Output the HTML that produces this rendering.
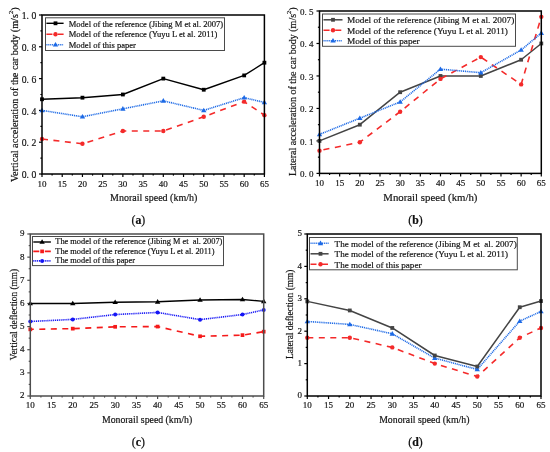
<!DOCTYPE html>
<html><head><meta charset="utf-8"><style>
html,body{margin:0;padding:0;background:#fff;}
svg{display:block;font-family:"Liberation Serif", serif;filter:blur(0.4px);}
text{stroke:#000;stroke-width:0.18px;}
</style></head><body>
<svg width="550" height="452" viewBox="0 0 550 452">
<rect width="550" height="452" fill="#fff"/>
<line x1="42.00" y1="174.00" x2="42.00" y2="177.00" stroke="#000" stroke-width="1.2"/>
<line x1="62.22" y1="174.00" x2="62.22" y2="177.00" stroke="#000" stroke-width="1.2"/>
<line x1="82.44" y1="174.00" x2="82.44" y2="177.00" stroke="#000" stroke-width="1.2"/>
<line x1="102.65" y1="174.00" x2="102.65" y2="177.00" stroke="#000" stroke-width="1.2"/>
<line x1="122.87" y1="174.00" x2="122.87" y2="177.00" stroke="#000" stroke-width="1.2"/>
<line x1="143.09" y1="174.00" x2="143.09" y2="177.00" stroke="#000" stroke-width="1.2"/>
<line x1="163.31" y1="174.00" x2="163.31" y2="177.00" stroke="#000" stroke-width="1.2"/>
<line x1="183.53" y1="174.00" x2="183.53" y2="177.00" stroke="#000" stroke-width="1.2"/>
<line x1="203.75" y1="174.00" x2="203.75" y2="177.00" stroke="#000" stroke-width="1.2"/>
<line x1="223.96" y1="174.00" x2="223.96" y2="177.00" stroke="#000" stroke-width="1.2"/>
<line x1="244.18" y1="174.00" x2="244.18" y2="177.00" stroke="#000" stroke-width="1.2"/>
<line x1="264.40" y1="174.00" x2="264.40" y2="177.00" stroke="#000" stroke-width="1.2"/>
<line x1="52.11" y1="174.00" x2="52.11" y2="175.60" stroke="#000" stroke-width="1.2"/>
<line x1="72.33" y1="174.00" x2="72.33" y2="175.60" stroke="#000" stroke-width="1.2"/>
<line x1="92.55" y1="174.00" x2="92.55" y2="175.60" stroke="#000" stroke-width="1.2"/>
<line x1="112.76" y1="174.00" x2="112.76" y2="175.60" stroke="#000" stroke-width="1.2"/>
<line x1="132.98" y1="174.00" x2="132.98" y2="175.60" stroke="#000" stroke-width="1.2"/>
<line x1="153.20" y1="174.00" x2="153.20" y2="175.60" stroke="#000" stroke-width="1.2"/>
<line x1="173.42" y1="174.00" x2="173.42" y2="175.60" stroke="#000" stroke-width="1.2"/>
<line x1="193.64" y1="174.00" x2="193.64" y2="175.60" stroke="#000" stroke-width="1.2"/>
<line x1="213.85" y1="174.00" x2="213.85" y2="175.60" stroke="#000" stroke-width="1.2"/>
<line x1="234.07" y1="174.00" x2="234.07" y2="175.60" stroke="#000" stroke-width="1.2"/>
<line x1="254.29" y1="174.00" x2="254.29" y2="175.60" stroke="#000" stroke-width="1.2"/>
<line x1="39.00" y1="174.00" x2="42.00" y2="174.00" stroke="#000" stroke-width="1.2"/>
<line x1="40.40" y1="158.10" x2="42.00" y2="158.10" stroke="#000" stroke-width="1.2"/>
<line x1="39.00" y1="142.20" x2="42.00" y2="142.20" stroke="#000" stroke-width="1.2"/>
<line x1="40.40" y1="126.30" x2="42.00" y2="126.30" stroke="#000" stroke-width="1.2"/>
<line x1="39.00" y1="110.40" x2="42.00" y2="110.40" stroke="#000" stroke-width="1.2"/>
<line x1="40.40" y1="94.50" x2="42.00" y2="94.50" stroke="#000" stroke-width="1.2"/>
<line x1="39.00" y1="78.60" x2="42.00" y2="78.60" stroke="#000" stroke-width="1.2"/>
<line x1="40.40" y1="62.70" x2="42.00" y2="62.70" stroke="#000" stroke-width="1.2"/>
<line x1="39.00" y1="46.80" x2="42.00" y2="46.80" stroke="#000" stroke-width="1.2"/>
<line x1="40.40" y1="30.90" x2="42.00" y2="30.90" stroke="#000" stroke-width="1.2"/>
<line x1="39.00" y1="15.00" x2="42.00" y2="15.00" stroke="#000" stroke-width="1.2"/>
<path d="M42.00,99.27L82.44,97.68L122.87,94.50L163.31,78.60L203.75,89.73L244.18,75.42L264.40,62.70" fill="none" stroke="#000" stroke-width="1.4" stroke-linejoin="round"/><rect x="40.10" y="97.37" width="3.80" height="3.80" fill="#000"/><rect x="80.54" y="95.78" width="3.80" height="3.80" fill="#000"/><rect x="120.97" y="92.60" width="3.80" height="3.80" fill="#000"/><rect x="161.41" y="76.70" width="3.80" height="3.80" fill="#000"/><rect x="201.85" y="87.83" width="3.80" height="3.80" fill="#000"/><rect x="242.28" y="73.52" width="3.80" height="3.80" fill="#000"/><rect x="262.50" y="60.80" width="3.80" height="3.80" fill="#000"/>
<path d="M42.00,139.02L82.44,143.79L122.87,131.07L163.31,131.07L203.75,116.76L244.18,101.66L264.40,115.17" fill="none" stroke="#f42a2a" stroke-width="1.6" stroke-dasharray="6,5.5" stroke-dashoffset="0" stroke-linejoin="round"/><circle cx="42.00" cy="139.02" r="2.20" fill="#f42a2a"/><circle cx="82.44" cy="143.79" r="2.20" fill="#f42a2a"/><circle cx="122.87" cy="131.07" r="2.20" fill="#f42a2a"/><circle cx="163.31" cy="131.07" r="2.20" fill="#f42a2a"/><circle cx="203.75" cy="116.76" r="2.20" fill="#f42a2a"/><circle cx="244.18" cy="101.66" r="2.20" fill="#f42a2a"/><circle cx="264.40" cy="115.17" r="2.20" fill="#f42a2a"/>
<path d="M42.00,110.40L82.44,116.76L122.87,108.81L163.31,100.86L203.75,110.40L244.18,97.68L264.40,102.45" fill="none" stroke="#1d6ae6" stroke-width="1.6" stroke-dasharray="1.1,0.8" stroke-dashoffset="0" stroke-linejoin="round"/><path d="M42.00,107.64L44.69,112.24L39.31,112.24Z" fill="#1d6ae6"/><path d="M82.44,114.00L85.13,118.60L79.75,118.60Z" fill="#1d6ae6"/><path d="M122.87,106.05L125.56,110.65L120.18,110.65Z" fill="#1d6ae6"/><path d="M163.31,98.10L166.00,102.70L160.62,102.70Z" fill="#1d6ae6"/><path d="M203.75,107.64L206.44,112.24L201.05,112.24Z" fill="#1d6ae6"/><path d="M244.18,94.92L246.87,99.52L241.49,99.52Z" fill="#1d6ae6"/><path d="M264.40,99.69L267.09,104.29L261.71,104.29Z" fill="#1d6ae6"/>
<rect x="42.00" y="15.00" width="222.40" height="159.00" fill="none" stroke="#000" stroke-width="1.5"/>
<text x="42.00" y="187.20" font-size="9" text-anchor="middle" fill="#262626">10</text>
<text x="62.22" y="187.20" font-size="9" text-anchor="middle" fill="#262626">15</text>
<text x="82.44" y="187.20" font-size="9" text-anchor="middle" fill="#262626">20</text>
<text x="102.65" y="187.20" font-size="9" text-anchor="middle" fill="#262626">25</text>
<text x="122.87" y="187.20" font-size="9" text-anchor="middle" fill="#262626">30</text>
<text x="143.09" y="187.20" font-size="9" text-anchor="middle" fill="#262626">35</text>
<text x="163.31" y="187.20" font-size="9" text-anchor="middle" fill="#262626">40</text>
<text x="183.53" y="187.20" font-size="9" text-anchor="middle" fill="#262626">45</text>
<text x="203.75" y="187.20" font-size="9" text-anchor="middle" fill="#262626">50</text>
<text x="223.96" y="187.20" font-size="9" text-anchor="middle" fill="#262626">55</text>
<text x="244.18" y="187.20" font-size="9" text-anchor="middle" fill="#262626">60</text>
<text x="264.40" y="187.20" font-size="9" text-anchor="middle" fill="#262626">65</text>
<text x="36.30" y="178.10" font-size="9.7" text-anchor="end" fill="#262626" xml:space="preserve">0. 0</text>
<text x="36.30" y="146.30" font-size="9.7" text-anchor="end" fill="#262626" xml:space="preserve">0. 2</text>
<text x="36.30" y="114.50" font-size="9.7" text-anchor="end" fill="#262626" xml:space="preserve">0. 4</text>
<text x="36.30" y="82.70" font-size="9.7" text-anchor="end" fill="#262626" xml:space="preserve">0. 6</text>
<text x="36.30" y="50.90" font-size="9.7" text-anchor="end" fill="#262626" xml:space="preserve">0. 8</text>
<text x="36.30" y="19.10" font-size="9.7" text-anchor="end" fill="#262626" xml:space="preserve">1. 0</text>
<text x="153.70" y="201.00" font-size="10" text-anchor="middle" fill="#222">Mnorail speed (km/h)</text>
<text transform="translate(17.50,94.75) rotate(-90)" x="0" y="0" font-size="10.2" text-anchor="middle" fill="#222">Vertical acceleration of the car body (m/s<tspan font-size="6.6" dy="-4.8">2</tspan><tspan dy="4.8">)</tspan></text>
<rect x="45.50" y="17.80" width="179.00" height="32.70" fill="#fff" stroke="#4a4a4a" stroke-width="1.0"/>
<line x1="46.40" y1="23.30" x2="63.60" y2="23.30" stroke="#000" stroke-width="1.4"/><rect x="53.60" y="21.40" width="3.80" height="3.80" fill="#000"/>
<text x="68.70" y="26.54" font-size="8.55" fill="#222" xml:space="preserve">Model of the reference (Jibing M et al. 2007)</text>
<line x1="46.40" y1="34.20" x2="63.60" y2="34.20" stroke="#f42a2a" stroke-width="1.6" stroke-dasharray="6,5.5"/><circle cx="55.50" cy="34.20" r="2.20" fill="#f42a2a"/>
<text x="68.70" y="37.44" font-size="8.55" fill="#222" xml:space="preserve">Model of the reference (Yuyu L et al. 2011)</text>
<line x1="46.40" y1="44.70" x2="63.60" y2="44.70" stroke="#1d6ae6" stroke-width="1.6" stroke-dasharray="1.1,0.8"/><path d="M55.50,41.94L58.19,46.54L52.81,46.54Z" fill="#1d6ae6"/>
<text x="68.70" y="47.94" font-size="8.55" fill="#222" xml:space="preserve">Model of this paper</text>
<text x="138.40" y="223.90" font-size="11.8" text-anchor="middle" fill="#111">(<tspan font-weight="bold">a</tspan>)</text>
<line x1="319.50" y1="173.40" x2="319.50" y2="176.40" stroke="#000" stroke-width="1.2"/>
<line x1="339.66" y1="173.40" x2="339.66" y2="176.40" stroke="#000" stroke-width="1.2"/>
<line x1="359.83" y1="173.40" x2="359.83" y2="176.40" stroke="#000" stroke-width="1.2"/>
<line x1="379.99" y1="173.40" x2="379.99" y2="176.40" stroke="#000" stroke-width="1.2"/>
<line x1="400.15" y1="173.40" x2="400.15" y2="176.40" stroke="#000" stroke-width="1.2"/>
<line x1="420.32" y1="173.40" x2="420.32" y2="176.40" stroke="#000" stroke-width="1.2"/>
<line x1="440.48" y1="173.40" x2="440.48" y2="176.40" stroke="#000" stroke-width="1.2"/>
<line x1="460.65" y1="173.40" x2="460.65" y2="176.40" stroke="#000" stroke-width="1.2"/>
<line x1="480.81" y1="173.40" x2="480.81" y2="176.40" stroke="#000" stroke-width="1.2"/>
<line x1="500.97" y1="173.40" x2="500.97" y2="176.40" stroke="#000" stroke-width="1.2"/>
<line x1="521.14" y1="173.40" x2="521.14" y2="176.40" stroke="#000" stroke-width="1.2"/>
<line x1="541.30" y1="173.40" x2="541.30" y2="176.40" stroke="#000" stroke-width="1.2"/>
<line x1="329.58" y1="173.40" x2="329.58" y2="175.00" stroke="#000" stroke-width="1.2"/>
<line x1="349.75" y1="173.40" x2="349.75" y2="175.00" stroke="#000" stroke-width="1.2"/>
<line x1="369.91" y1="173.40" x2="369.91" y2="175.00" stroke="#000" stroke-width="1.2"/>
<line x1="390.07" y1="173.40" x2="390.07" y2="175.00" stroke="#000" stroke-width="1.2"/>
<line x1="410.24" y1="173.40" x2="410.24" y2="175.00" stroke="#000" stroke-width="1.2"/>
<line x1="430.40" y1="173.40" x2="430.40" y2="175.00" stroke="#000" stroke-width="1.2"/>
<line x1="450.56" y1="173.40" x2="450.56" y2="175.00" stroke="#000" stroke-width="1.2"/>
<line x1="470.73" y1="173.40" x2="470.73" y2="175.00" stroke="#000" stroke-width="1.2"/>
<line x1="490.89" y1="173.40" x2="490.89" y2="175.00" stroke="#000" stroke-width="1.2"/>
<line x1="511.05" y1="173.40" x2="511.05" y2="175.00" stroke="#000" stroke-width="1.2"/>
<line x1="531.22" y1="173.40" x2="531.22" y2="175.00" stroke="#000" stroke-width="1.2"/>
<line x1="316.50" y1="173.40" x2="319.50" y2="173.40" stroke="#000" stroke-width="1.2"/>
<line x1="317.90" y1="157.16" x2="319.50" y2="157.16" stroke="#000" stroke-width="1.2"/>
<line x1="316.50" y1="140.92" x2="319.50" y2="140.92" stroke="#000" stroke-width="1.2"/>
<line x1="317.90" y1="124.68" x2="319.50" y2="124.68" stroke="#000" stroke-width="1.2"/>
<line x1="316.50" y1="108.44" x2="319.50" y2="108.44" stroke="#000" stroke-width="1.2"/>
<line x1="317.90" y1="92.20" x2="319.50" y2="92.20" stroke="#000" stroke-width="1.2"/>
<line x1="316.50" y1="75.96" x2="319.50" y2="75.96" stroke="#000" stroke-width="1.2"/>
<line x1="317.90" y1="59.72" x2="319.50" y2="59.72" stroke="#000" stroke-width="1.2"/>
<line x1="316.50" y1="43.48" x2="319.50" y2="43.48" stroke="#000" stroke-width="1.2"/>
<line x1="317.90" y1="27.24" x2="319.50" y2="27.24" stroke="#000" stroke-width="1.2"/>
<line x1="316.50" y1="11.00" x2="319.50" y2="11.00" stroke="#000" stroke-width="1.2"/>
<path d="M319.50,140.92L359.83,124.68L400.15,92.20L440.48,75.96L480.81,75.96L521.14,59.72L541.30,43.48" fill="none" stroke="#444" stroke-width="1.5" stroke-linejoin="round"/><rect x="317.60" y="139.02" width="3.80" height="3.80" fill="#444"/><rect x="357.93" y="122.78" width="3.80" height="3.80" fill="#444"/><rect x="398.25" y="90.30" width="3.80" height="3.80" fill="#444"/><rect x="438.58" y="74.06" width="3.80" height="3.80" fill="#444"/><rect x="478.91" y="74.06" width="3.80" height="3.80" fill="#444"/><rect x="519.24" y="57.82" width="3.80" height="3.80" fill="#444"/><rect x="539.40" y="41.58" width="3.80" height="3.80" fill="#444"/>
<path d="M319.50,150.66L359.83,142.22L400.15,111.69L440.48,78.88L480.81,57.12L521.14,84.40L541.30,16.85" fill="none" stroke="#f42a2a" stroke-width="1.6" stroke-dasharray="6.1,5.6" stroke-dashoffset="-4" stroke-linejoin="round"/><circle cx="319.50" cy="150.66" r="2.20" fill="#f42a2a"/><circle cx="359.83" cy="142.22" r="2.20" fill="#f42a2a"/><circle cx="400.15" cy="111.69" r="2.20" fill="#f42a2a"/><circle cx="440.48" cy="78.88" r="2.20" fill="#f42a2a"/><circle cx="480.81" cy="57.12" r="2.20" fill="#f42a2a"/><circle cx="521.14" cy="84.40" r="2.20" fill="#f42a2a"/><circle cx="541.30" cy="16.85" r="2.20" fill="#f42a2a"/>
<path d="M319.50,134.42L359.83,118.18L400.15,101.94L440.48,69.14L480.81,72.71L521.14,49.98L541.30,33.09" fill="none" stroke="#1d6ae6" stroke-width="1.6" stroke-dasharray="1.1,0.8" stroke-dashoffset="0" stroke-linejoin="round"/><path d="M319.50,131.66L322.19,136.26L316.81,136.26Z" fill="#1d6ae6"/><path d="M359.83,115.42L362.52,120.02L357.14,120.02Z" fill="#1d6ae6"/><path d="M400.15,99.18L402.85,103.78L397.46,103.78Z" fill="#1d6ae6"/><path d="M440.48,66.38L443.17,70.98L437.79,70.98Z" fill="#1d6ae6"/><path d="M480.81,69.95L483.50,74.55L478.12,74.55Z" fill="#1d6ae6"/><path d="M521.14,47.22L523.83,51.82L518.45,51.82Z" fill="#1d6ae6"/><path d="M541.30,30.33L543.99,34.93L538.61,34.93Z" fill="#1d6ae6"/>
<rect x="319.50" y="11.00" width="221.80" height="162.40" fill="none" stroke="#000" stroke-width="1.5"/>
<text x="319.50" y="186.00" font-size="9" text-anchor="middle" fill="#262626">10</text>
<text x="339.66" y="186.00" font-size="9" text-anchor="middle" fill="#262626">15</text>
<text x="359.83" y="186.00" font-size="9" text-anchor="middle" fill="#262626">20</text>
<text x="379.99" y="186.00" font-size="9" text-anchor="middle" fill="#262626">25</text>
<text x="400.15" y="186.00" font-size="9" text-anchor="middle" fill="#262626">30</text>
<text x="420.32" y="186.00" font-size="9" text-anchor="middle" fill="#262626">35</text>
<text x="440.48" y="186.00" font-size="9" text-anchor="middle" fill="#262626">40</text>
<text x="460.65" y="186.00" font-size="9" text-anchor="middle" fill="#262626">45</text>
<text x="480.81" y="186.00" font-size="9" text-anchor="middle" fill="#262626">50</text>
<text x="500.97" y="186.00" font-size="9" text-anchor="middle" fill="#262626">55</text>
<text x="521.14" y="186.00" font-size="9" text-anchor="middle" fill="#262626">60</text>
<text x="541.30" y="186.00" font-size="9" text-anchor="middle" fill="#262626">65</text>
<text x="313.50" y="177.37" font-size="9" text-anchor="end" fill="#262626" xml:space="preserve">0. 0</text>
<text x="313.50" y="144.89" font-size="9" text-anchor="end" fill="#262626" xml:space="preserve">0. 1</text>
<text x="313.50" y="112.41" font-size="9" text-anchor="end" fill="#262626" xml:space="preserve">0. 2</text>
<text x="313.50" y="79.93" font-size="9" text-anchor="end" fill="#262626" xml:space="preserve">0. 3</text>
<text x="313.50" y="47.45" font-size="9" text-anchor="end" fill="#262626" xml:space="preserve">0. 4</text>
<text x="313.50" y="14.97" font-size="9" text-anchor="end" fill="#262626" xml:space="preserve">0. 5</text>
<text x="430.40" y="201.20" font-size="10.8" text-anchor="middle" fill="#222">Mnorail speed (km/h)</text>
<text transform="translate(295.50,91.70) rotate(-90)" x="0" y="0" font-size="10" text-anchor="middle" fill="#222">Lateral acceleration of the car body (m/s<tspan font-size="6.6" dy="-4.8">2</tspan><tspan dy="4.8">)</tspan></text>
<rect x="322.50" y="14.00" width="193.00" height="32.30" fill="#fff" stroke="#4a4a4a" stroke-width="1.0"/>
<line x1="323.50" y1="19.80" x2="342.50" y2="19.80" stroke="#444" stroke-width="1.5"/><rect x="331.10" y="17.90" width="3.80" height="3.80" fill="#444"/>
<text x="347.00" y="23.26" font-size="9.25" fill="#222" xml:space="preserve">Model of the reference (Jibing M et al. 2007)</text>
<line x1="323.50" y1="30.20" x2="342.50" y2="30.20" stroke="#f42a2a" stroke-width="1.6" stroke-dasharray="6.1,5.6"/><circle cx="333.00" cy="30.20" r="2.20" fill="#f42a2a"/>
<text x="347.00" y="33.66" font-size="9.25" fill="#222" xml:space="preserve">Model of the reference (Yuyu L et al. 2011)</text>
<line x1="323.50" y1="40.70" x2="342.50" y2="40.70" stroke="#1d6ae6" stroke-width="1.6" stroke-dasharray="1.1,0.8"/><path d="M333.00,37.94L335.69,42.54L330.31,42.54Z" fill="#1d6ae6"/>
<text x="347.00" y="44.16" font-size="9.25" fill="#222" xml:space="preserve">Model of this paper</text>
<text x="415.50" y="224.40" font-size="11.8" text-anchor="middle" fill="#111">(<tspan font-weight="bold">b</tspan>)</text>
<line x1="30.30" y1="396.00" x2="30.30" y2="399.00" stroke="#4d4d4d" stroke-width="1.2"/>
<line x1="51.52" y1="396.00" x2="51.52" y2="399.00" stroke="#4d4d4d" stroke-width="1.2"/>
<line x1="72.74" y1="396.00" x2="72.74" y2="399.00" stroke="#4d4d4d" stroke-width="1.2"/>
<line x1="93.95" y1="396.00" x2="93.95" y2="399.00" stroke="#4d4d4d" stroke-width="1.2"/>
<line x1="115.17" y1="396.00" x2="115.17" y2="399.00" stroke="#4d4d4d" stroke-width="1.2"/>
<line x1="136.39" y1="396.00" x2="136.39" y2="399.00" stroke="#4d4d4d" stroke-width="1.2"/>
<line x1="157.61" y1="396.00" x2="157.61" y2="399.00" stroke="#4d4d4d" stroke-width="1.2"/>
<line x1="178.83" y1="396.00" x2="178.83" y2="399.00" stroke="#4d4d4d" stroke-width="1.2"/>
<line x1="200.05" y1="396.00" x2="200.05" y2="399.00" stroke="#4d4d4d" stroke-width="1.2"/>
<line x1="221.26" y1="396.00" x2="221.26" y2="399.00" stroke="#4d4d4d" stroke-width="1.2"/>
<line x1="242.48" y1="396.00" x2="242.48" y2="399.00" stroke="#4d4d4d" stroke-width="1.2"/>
<line x1="263.70" y1="396.00" x2="263.70" y2="399.00" stroke="#4d4d4d" stroke-width="1.2"/>
<line x1="40.91" y1="396.00" x2="40.91" y2="397.60" stroke="#4d4d4d" stroke-width="1.2"/>
<line x1="62.13" y1="396.00" x2="62.13" y2="397.60" stroke="#4d4d4d" stroke-width="1.2"/>
<line x1="83.35" y1="396.00" x2="83.35" y2="397.60" stroke="#4d4d4d" stroke-width="1.2"/>
<line x1="104.56" y1="396.00" x2="104.56" y2="397.60" stroke="#4d4d4d" stroke-width="1.2"/>
<line x1="125.78" y1="396.00" x2="125.78" y2="397.60" stroke="#4d4d4d" stroke-width="1.2"/>
<line x1="147.00" y1="396.00" x2="147.00" y2="397.60" stroke="#4d4d4d" stroke-width="1.2"/>
<line x1="168.22" y1="396.00" x2="168.22" y2="397.60" stroke="#4d4d4d" stroke-width="1.2"/>
<line x1="189.44" y1="396.00" x2="189.44" y2="397.60" stroke="#4d4d4d" stroke-width="1.2"/>
<line x1="210.65" y1="396.00" x2="210.65" y2="397.60" stroke="#4d4d4d" stroke-width="1.2"/>
<line x1="231.87" y1="396.00" x2="231.87" y2="397.60" stroke="#4d4d4d" stroke-width="1.2"/>
<line x1="253.09" y1="396.00" x2="253.09" y2="397.60" stroke="#4d4d4d" stroke-width="1.2"/>
<line x1="27.30" y1="396.00" x2="30.30" y2="396.00" stroke="#4d4d4d" stroke-width="1.2"/>
<line x1="28.70" y1="384.43" x2="30.30" y2="384.43" stroke="#4d4d4d" stroke-width="1.2"/>
<line x1="27.30" y1="372.86" x2="30.30" y2="372.86" stroke="#4d4d4d" stroke-width="1.2"/>
<line x1="28.70" y1="361.29" x2="30.30" y2="361.29" stroke="#4d4d4d" stroke-width="1.2"/>
<line x1="27.30" y1="349.71" x2="30.30" y2="349.71" stroke="#4d4d4d" stroke-width="1.2"/>
<line x1="28.70" y1="338.14" x2="30.30" y2="338.14" stroke="#4d4d4d" stroke-width="1.2"/>
<line x1="27.30" y1="326.57" x2="30.30" y2="326.57" stroke="#4d4d4d" stroke-width="1.2"/>
<line x1="28.70" y1="315.00" x2="30.30" y2="315.00" stroke="#4d4d4d" stroke-width="1.2"/>
<line x1="27.30" y1="303.43" x2="30.30" y2="303.43" stroke="#4d4d4d" stroke-width="1.2"/>
<line x1="28.70" y1="291.86" x2="30.30" y2="291.86" stroke="#4d4d4d" stroke-width="1.2"/>
<line x1="27.30" y1="280.29" x2="30.30" y2="280.29" stroke="#4d4d4d" stroke-width="1.2"/>
<line x1="28.70" y1="268.71" x2="30.30" y2="268.71" stroke="#4d4d4d" stroke-width="1.2"/>
<line x1="27.30" y1="257.14" x2="30.30" y2="257.14" stroke="#4d4d4d" stroke-width="1.2"/>
<line x1="28.70" y1="245.57" x2="30.30" y2="245.57" stroke="#4d4d4d" stroke-width="1.2"/>
<line x1="27.30" y1="234.00" x2="30.30" y2="234.00" stroke="#4d4d4d" stroke-width="1.2"/>
<path d="M30.30,303.43L72.74,303.43L115.17,302.27L157.61,301.81L200.05,299.96L242.48,299.49L263.70,301.35" fill="none" stroke="#000" stroke-width="1.4" stroke-linejoin="round"/><path d="M30.30,300.67L32.99,305.27L27.61,305.27Z" fill="#000"/><path d="M72.74,300.67L75.43,305.27L70.05,305.27Z" fill="#000"/><path d="M115.17,299.51L117.86,304.11L112.48,304.11Z" fill="#000"/><path d="M157.61,299.05L160.30,303.65L154.92,303.65Z" fill="#000"/><path d="M200.05,297.20L202.74,301.80L197.35,301.80Z" fill="#000"/><path d="M242.48,296.73L245.17,301.33L239.79,301.33Z" fill="#000"/><path d="M263.70,298.59L266.39,303.19L261.01,303.19Z" fill="#000"/>
<path d="M30.30,329.35L72.74,328.65L115.17,326.80L157.61,326.57L200.05,336.29L242.48,335.13L263.70,331.66" fill="none" stroke="#f51a1a" stroke-width="1.6" stroke-dasharray="6,5.5" stroke-dashoffset="2.5" stroke-linejoin="round"/><rect x="28.45" y="327.50" width="3.70" height="3.70" fill="#f51a1a"/><rect x="70.89" y="326.80" width="3.70" height="3.70" fill="#f51a1a"/><rect x="113.32" y="324.95" width="3.70" height="3.70" fill="#f51a1a"/><rect x="155.76" y="324.72" width="3.70" height="3.70" fill="#f51a1a"/><rect x="198.20" y="334.44" width="3.70" height="3.70" fill="#f51a1a"/><rect x="240.63" y="333.28" width="3.70" height="3.70" fill="#f51a1a"/><rect x="261.85" y="329.81" width="3.70" height="3.70" fill="#f51a1a"/>
<path d="M30.30,321.48L72.74,319.40L115.17,314.54L157.61,312.45L200.05,319.63L242.48,314.54L263.70,309.91" fill="none" stroke="#1515f5" stroke-width="1.6" stroke-dasharray="1.1,0.8" stroke-dashoffset="0" stroke-linejoin="round"/><circle cx="30.30" cy="321.48" r="2.00" fill="#1515f5"/><circle cx="72.74" cy="319.40" r="2.00" fill="#1515f5"/><circle cx="115.17" cy="314.54" r="2.00" fill="#1515f5"/><circle cx="157.61" cy="312.45" r="2.00" fill="#1515f5"/><circle cx="200.05" cy="319.63" r="2.00" fill="#1515f5"/><circle cx="242.48" cy="314.54" r="2.00" fill="#1515f5"/><circle cx="263.70" cy="309.91" r="2.00" fill="#1515f5"/>
<rect x="30.30" y="234.00" width="233.40" height="162.00" fill="none" stroke="#4d4d4d" stroke-width="1.5"/>
<text x="30.30" y="407.80" font-size="9" text-anchor="middle" fill="#262626">10</text>
<text x="51.52" y="407.80" font-size="9" text-anchor="middle" fill="#262626">15</text>
<text x="72.74" y="407.80" font-size="9" text-anchor="middle" fill="#262626">20</text>
<text x="93.95" y="407.80" font-size="9" text-anchor="middle" fill="#262626">25</text>
<text x="115.17" y="407.80" font-size="9" text-anchor="middle" fill="#262626">30</text>
<text x="136.39" y="407.80" font-size="9" text-anchor="middle" fill="#262626">35</text>
<text x="157.61" y="407.80" font-size="9" text-anchor="middle" fill="#262626">40</text>
<text x="178.83" y="407.80" font-size="9" text-anchor="middle" fill="#262626">45</text>
<text x="200.05" y="407.80" font-size="9" text-anchor="middle" fill="#262626">50</text>
<text x="221.26" y="407.80" font-size="9" text-anchor="middle" fill="#262626">55</text>
<text x="242.48" y="407.80" font-size="9" text-anchor="middle" fill="#262626">60</text>
<text x="263.70" y="407.80" font-size="9" text-anchor="middle" fill="#262626">65</text>
<text x="24.50" y="398.47" font-size="9" text-anchor="end" fill="#262626" xml:space="preserve">2</text>
<text x="24.50" y="375.33" font-size="9" text-anchor="end" fill="#262626" xml:space="preserve">3</text>
<text x="24.50" y="352.18" font-size="9" text-anchor="end" fill="#262626" xml:space="preserve">4</text>
<text x="24.50" y="329.04" font-size="9" text-anchor="end" fill="#262626" xml:space="preserve">5</text>
<text x="24.50" y="305.90" font-size="9" text-anchor="end" fill="#262626" xml:space="preserve">6</text>
<text x="24.50" y="282.76" font-size="9" text-anchor="end" fill="#262626" xml:space="preserve">7</text>
<text x="24.50" y="259.61" font-size="9" text-anchor="end" fill="#262626" xml:space="preserve">8</text>
<text x="24.50" y="236.47" font-size="9" text-anchor="end" fill="#262626" xml:space="preserve">9</text>
<text x="147.10" y="423.40" font-size="9.8" text-anchor="middle" fill="#222">Monorail speed (km/h)</text>
<text transform="translate(16.60,314.60) rotate(-90)" x="0" y="0" font-size="9.3" text-anchor="middle" fill="#222">Vertical deflection (mm)</text>
<rect x="32.50" y="236.50" width="191.00" height="29.10" fill="#fff" stroke="#4a4a4a" stroke-width="1.0"/>
<line x1="33.30" y1="242.00" x2="50.90" y2="242.00" stroke="#000" stroke-width="1.4"/><path d="M42.10,239.24L44.79,243.84L39.41,243.84Z" fill="#000"/>
<text x="55.30" y="244.47" font-size="8.35" fill="#222" xml:space="preserve">The model of the reference (Jibing M et  al. 2007)</text>
<line x1="33.30" y1="251.40" x2="50.90" y2="251.40" stroke="#f51a1a" stroke-width="1.6" stroke-dasharray="6,5.5"/><rect x="40.25" y="249.55" width="3.70" height="3.70" fill="#f51a1a"/>
<text x="55.30" y="253.87" font-size="8.35" fill="#222" xml:space="preserve">The model of the reference (Yuyu L et al. 2011)</text>
<line x1="33.30" y1="260.90" x2="50.90" y2="260.90" stroke="#1515f5" stroke-width="1.6" stroke-dasharray="1.1,0.8"/><circle cx="42.10" cy="260.90" r="2.00" fill="#1515f5"/>
<text x="55.30" y="263.37" font-size="8.35" fill="#222" xml:space="preserve">The model of this paper</text>
<text x="138.40" y="445.60" font-size="11.8" text-anchor="middle" fill="#111">(<tspan font-weight="bold">c</tspan>)</text>
<line x1="307.30" y1="396.00" x2="307.30" y2="399.00" stroke="#000" stroke-width="1.2"/>
<line x1="328.55" y1="396.00" x2="328.55" y2="399.00" stroke="#000" stroke-width="1.2"/>
<line x1="349.79" y1="396.00" x2="349.79" y2="399.00" stroke="#000" stroke-width="1.2"/>
<line x1="371.04" y1="396.00" x2="371.04" y2="399.00" stroke="#000" stroke-width="1.2"/>
<line x1="392.28" y1="396.00" x2="392.28" y2="399.00" stroke="#000" stroke-width="1.2"/>
<line x1="413.53" y1="396.00" x2="413.53" y2="399.00" stroke="#000" stroke-width="1.2"/>
<line x1="434.77" y1="396.00" x2="434.77" y2="399.00" stroke="#000" stroke-width="1.2"/>
<line x1="456.02" y1="396.00" x2="456.02" y2="399.00" stroke="#000" stroke-width="1.2"/>
<line x1="477.26" y1="396.00" x2="477.26" y2="399.00" stroke="#000" stroke-width="1.2"/>
<line x1="498.51" y1="396.00" x2="498.51" y2="399.00" stroke="#000" stroke-width="1.2"/>
<line x1="519.75" y1="396.00" x2="519.75" y2="399.00" stroke="#000" stroke-width="1.2"/>
<line x1="541.00" y1="396.00" x2="541.00" y2="399.00" stroke="#000" stroke-width="1.2"/>
<line x1="317.92" y1="396.00" x2="317.92" y2="397.60" stroke="#000" stroke-width="1.2"/>
<line x1="339.17" y1="396.00" x2="339.17" y2="397.60" stroke="#000" stroke-width="1.2"/>
<line x1="360.41" y1="396.00" x2="360.41" y2="397.60" stroke="#000" stroke-width="1.2"/>
<line x1="381.66" y1="396.00" x2="381.66" y2="397.60" stroke="#000" stroke-width="1.2"/>
<line x1="402.90" y1="396.00" x2="402.90" y2="397.60" stroke="#000" stroke-width="1.2"/>
<line x1="424.15" y1="396.00" x2="424.15" y2="397.60" stroke="#000" stroke-width="1.2"/>
<line x1="445.40" y1="396.00" x2="445.40" y2="397.60" stroke="#000" stroke-width="1.2"/>
<line x1="466.64" y1="396.00" x2="466.64" y2="397.60" stroke="#000" stroke-width="1.2"/>
<line x1="487.89" y1="396.00" x2="487.89" y2="397.60" stroke="#000" stroke-width="1.2"/>
<line x1="509.13" y1="396.00" x2="509.13" y2="397.60" stroke="#000" stroke-width="1.2"/>
<line x1="530.38" y1="396.00" x2="530.38" y2="397.60" stroke="#000" stroke-width="1.2"/>
<line x1="304.30" y1="396.00" x2="307.30" y2="396.00" stroke="#000" stroke-width="1.2"/>
<line x1="305.70" y1="379.80" x2="307.30" y2="379.80" stroke="#000" stroke-width="1.2"/>
<line x1="304.30" y1="363.60" x2="307.30" y2="363.60" stroke="#000" stroke-width="1.2"/>
<line x1="305.70" y1="347.40" x2="307.30" y2="347.40" stroke="#000" stroke-width="1.2"/>
<line x1="304.30" y1="331.20" x2="307.30" y2="331.20" stroke="#000" stroke-width="1.2"/>
<line x1="305.70" y1="315.00" x2="307.30" y2="315.00" stroke="#000" stroke-width="1.2"/>
<line x1="304.30" y1="298.80" x2="307.30" y2="298.80" stroke="#000" stroke-width="1.2"/>
<line x1="305.70" y1="282.60" x2="307.30" y2="282.60" stroke="#000" stroke-width="1.2"/>
<line x1="304.30" y1="266.40" x2="307.30" y2="266.40" stroke="#000" stroke-width="1.2"/>
<line x1="305.70" y1="250.20" x2="307.30" y2="250.20" stroke="#000" stroke-width="1.2"/>
<line x1="304.30" y1="234.00" x2="307.30" y2="234.00" stroke="#000" stroke-width="1.2"/>
<path d="M307.30,321.48L349.79,324.40L392.28,333.79L434.77,358.09L477.26,369.43L519.75,321.16L541.00,311.44" fill="none" stroke="#1d6ae6" stroke-width="1.6" stroke-dasharray="1.1,0.8" stroke-dashoffset="0" stroke-linejoin="round"/><path d="M307.30,318.72L309.99,323.32L304.61,323.32Z" fill="#1d6ae6"/><path d="M349.79,321.64L352.48,326.24L347.10,326.24Z" fill="#1d6ae6"/><path d="M392.28,331.03L394.97,335.63L389.59,335.63Z" fill="#1d6ae6"/><path d="M434.77,355.33L437.46,359.93L432.08,359.93Z" fill="#1d6ae6"/><path d="M477.26,366.67L479.95,371.27L474.57,371.27Z" fill="#1d6ae6"/><path d="M519.75,318.40L522.45,323.00L517.06,323.00Z" fill="#1d6ae6"/><path d="M541.00,308.68L543.69,313.28L538.31,313.28Z" fill="#1d6ae6"/>
<path d="M307.30,301.39L349.79,310.46L392.28,327.96L434.77,355.50L477.26,366.52L519.75,307.22L541.00,301.07" fill="none" stroke="#444" stroke-width="1.5" stroke-linejoin="round"/><rect x="305.40" y="299.49" width="3.80" height="3.80" fill="#444"/><rect x="347.89" y="308.56" width="3.80" height="3.80" fill="#444"/><rect x="390.38" y="326.06" width="3.80" height="3.80" fill="#444"/><rect x="432.87" y="353.60" width="3.80" height="3.80" fill="#444"/><rect x="475.36" y="364.62" width="3.80" height="3.80" fill="#444"/><rect x="517.85" y="305.32" width="3.80" height="3.80" fill="#444"/><rect x="539.10" y="299.17" width="3.80" height="3.80" fill="#444"/>
<path d="M307.30,337.68L349.79,337.68L392.28,347.40L434.77,363.60L477.26,376.56L519.75,337.68L541.00,327.96" fill="none" stroke="#f42a2a" stroke-width="1.6" stroke-dasharray="6,5.5" stroke-dashoffset="0" stroke-linejoin="round"/><circle cx="307.30" cy="337.68" r="2.20" fill="#f42a2a"/><circle cx="349.79" cy="337.68" r="2.20" fill="#f42a2a"/><circle cx="392.28" cy="347.40" r="2.20" fill="#f42a2a"/><circle cx="434.77" cy="363.60" r="2.20" fill="#f42a2a"/><circle cx="477.26" cy="376.56" r="2.20" fill="#f42a2a"/><circle cx="519.75" cy="337.68" r="2.20" fill="#f42a2a"/><circle cx="541.00" cy="327.96" r="2.20" fill="#f42a2a"/>
<rect x="307.30" y="234.00" width="233.70" height="162.00" fill="none" stroke="#000" stroke-width="1.5"/>
<text x="307.30" y="407.80" font-size="9" text-anchor="middle" fill="#262626">10</text>
<text x="328.55" y="407.80" font-size="9" text-anchor="middle" fill="#262626">15</text>
<text x="349.79" y="407.80" font-size="9" text-anchor="middle" fill="#262626">20</text>
<text x="371.04" y="407.80" font-size="9" text-anchor="middle" fill="#262626">25</text>
<text x="392.28" y="407.80" font-size="9" text-anchor="middle" fill="#262626">30</text>
<text x="413.53" y="407.80" font-size="9" text-anchor="middle" fill="#262626">35</text>
<text x="434.77" y="407.80" font-size="9" text-anchor="middle" fill="#262626">40</text>
<text x="456.02" y="407.80" font-size="9" text-anchor="middle" fill="#262626">45</text>
<text x="477.26" y="407.80" font-size="9" text-anchor="middle" fill="#262626">50</text>
<text x="498.51" y="407.80" font-size="9" text-anchor="middle" fill="#262626">55</text>
<text x="519.75" y="407.80" font-size="9" text-anchor="middle" fill="#262626">60</text>
<text x="541.00" y="407.80" font-size="9" text-anchor="middle" fill="#262626">65</text>
<text x="302.00" y="398.47" font-size="9" text-anchor="end" fill="#262626" xml:space="preserve">0</text>
<text x="302.00" y="366.07" font-size="9" text-anchor="end" fill="#262626" xml:space="preserve">1</text>
<text x="302.00" y="333.67" font-size="9" text-anchor="end" fill="#262626" xml:space="preserve">2</text>
<text x="302.00" y="301.27" font-size="9" text-anchor="end" fill="#262626" xml:space="preserve">3</text>
<text x="302.00" y="268.87" font-size="9" text-anchor="end" fill="#262626" xml:space="preserve">4</text>
<text x="302.00" y="236.47" font-size="9" text-anchor="end" fill="#262626" xml:space="preserve">5</text>
<text x="424.30" y="422.90" font-size="9.8" text-anchor="middle" fill="#222">Monorail speed (km/h)</text>
<text transform="translate(293.00,314.30) rotate(-90)" x="0" y="0" font-size="9.4" text-anchor="middle" fill="#222">Lateral deflection (mm)</text>
<rect x="309.50" y="237.50" width="207.80" height="32.30" fill="#fff" stroke="#4a4a4a" stroke-width="1.0"/>
<line x1="310.50" y1="243.30" x2="328.60" y2="243.30" stroke="#1d6ae6" stroke-width="1.6" stroke-dasharray="1.1,0.8"/><path d="M320.50,240.54L323.19,245.14L317.81,245.14Z" fill="#1d6ae6"/>
<text x="334.60" y="246.71" font-size="9.1" fill="#222" xml:space="preserve">The model of the reference (Jibing M et  al. 2007)</text>
<line x1="310.50" y1="253.80" x2="328.60" y2="253.80" stroke="#444" stroke-width="1.5"/><rect x="318.60" y="251.90" width="3.80" height="3.80" fill="#444"/>
<text x="334.60" y="257.21" font-size="9.1" fill="#222" xml:space="preserve">The model of the reference (Yuyu L et al. 2011)</text>
<line x1="310.50" y1="264.20" x2="328.60" y2="264.20" stroke="#f42a2a" stroke-width="1.6" stroke-dasharray="6,5.5"/><circle cx="320.50" cy="264.20" r="2.20" fill="#f42a2a"/>
<text x="334.60" y="267.61" font-size="9.1" fill="#222" xml:space="preserve">The model of this paper</text>
<text x="415.50" y="445.60" font-size="11.8" text-anchor="middle" fill="#111">(<tspan font-weight="bold">d</tspan>)</text>
</svg>
</body></html>
